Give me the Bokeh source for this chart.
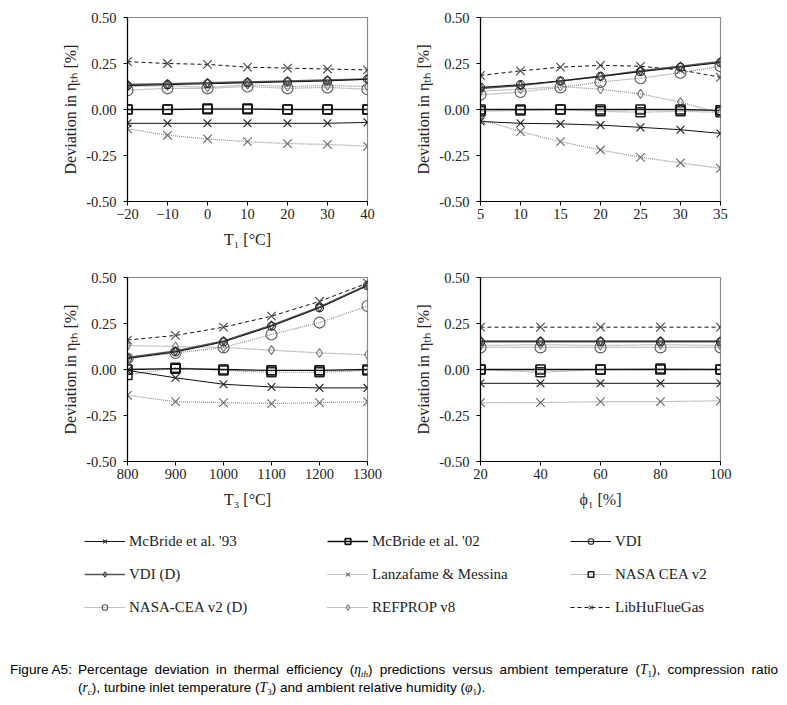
from bokeh.plotting import figure
from bokeh.layouts import column, row
from bokeh.models import (Range1d, FixedTicker, NumeralTickFormatter, Label,
                          Legend, LegendItem, ColumnDataSource, Div)
from bokeh.embed import file_html
from bokeh.resources import INLINE

# ---------------------------------------------------------------- data
SERIES = ["McBride et al. '93", "McBride et al. '02", "VDI",
          "VDI (D)", "Lanzafame & Messina", "NASA CEA v2",
          "NASA-CEA v2 (D)", "REFPROP v8", "LibHuFlueGas"]

# ambient temperature T1 [°C]
T1 = [-20, -10, 0, 10, 20, 30, 40]
t1_dev = {
    "McBride et al. '93": [-0.075, -0.075, -0.075, -0.075, -0.075, -0.075, -0.07],
    "McBride et al. '02": [0.0, 0.0, 0.002, 0.002, 0.0, 0.0, 0.0],
    "VDI": [0.13, 0.135, 0.14, 0.145, 0.15, 0.155, 0.165],
    "VDI (D)": [0.135, 0.14, 0.145, 0.15, 0.155, 0.16, 0.165],
    "Lanzafame & Messina": [-0.105, -0.14, -0.16, -0.175, -0.185, -0.19, -0.2],
    "NASA CEA v2": [0.0, 0.0, 0.006, 0.006, 0.0, 0.0, 0.0],
    "NASA-CEA v2 (D)": [0.105, 0.115, 0.115, 0.125, 0.115, 0.12, 0.11],
    "REFPROP v8": [0.125, 0.13, 0.12, 0.135, 0.125, 0.13, 0.125],
    "LibHuFlueGas": [0.26, 0.25, 0.245, 0.23, 0.225, 0.22, 0.215],
}

# compression ratio rc [-]
RC = [5, 10, 15, 20, 25, 30, 35]
rc_dev = {
    "McBride et al. '93": [-0.065, -0.075, -0.078, -0.085, -0.097, -0.11, -0.13],
    "McBride et al. '02": [0.0, 0.0, 0.0, 0.0, 0.0, 0.0, -0.005],
    "VDI": [0.12, 0.135, 0.155, 0.18, 0.205, 0.23, 0.255],
    "VDI (D)": [0.115, 0.13, 0.155, 0.18, 0.21, 0.235, 0.26],
    "Lanzafame & Messina": [-0.055, -0.12, -0.175, -0.22, -0.26, -0.29, -0.32],
    "NASA CEA v2": [-0.01, -0.005, 0.0, -0.01, -0.015, -0.01, -0.015],
    "NASA-CEA v2 (D)": [0.08, 0.095, 0.12, 0.15, 0.17, 0.2, 0.235],
    "REFPROP v8": [0.1, 0.11, 0.125, 0.11, 0.085, 0.04, -0.02],
    "LibHuFlueGas": [0.185, 0.21, 0.23, 0.24, 0.235, 0.215, 0.175],
}

# turbine inlet temperature T3 [°C]
T3 = [800, 900, 1000, 1100, 1200, 1300]
t3_dev = {
    "McBride et al. '93": [-0.005, -0.045, -0.08, -0.095, -0.1, -0.1],
    "McBride et al. '02": [0.0, 0.005, 0.0, -0.005, -0.005, 0.0],
    "VDI": [0.06, 0.095, 0.15, 0.235, 0.335, 0.455],
    "VDI (D)": [0.065, 0.1, 0.155, 0.24, 0.34, 0.46],
    "Lanzafame & Messina": [-0.14, -0.175, -0.18, -0.185, -0.18, -0.175],
    "NASA CEA v2": [-0.03, 0.01, -0.005, -0.015, -0.015, -0.005],
    "NASA-CEA v2 (D)": [0.06, 0.09, 0.12, 0.19, 0.255, 0.345],
    "REFPROP v8": [0.13, 0.125, 0.12, 0.105, 0.09, 0.08],
    "LibHuFlueGas": [0.16, 0.185, 0.23, 0.29, 0.37, 0.47],
}

# ambient relative humidity phi1 [%]
PHI = [20, 40, 60, 80, 100]
phi_dev = {
    "McBride et al. '93": [-0.075, -0.075, -0.075, -0.075, -0.075],
    "McBride et al. '02": [0.0, 0.0, 0.0, 0.0, 0.0],
    "VDI": [0.15, 0.15, 0.15, 0.15, 0.15],
    "VDI (D)": [0.155, 0.155, 0.155, 0.155, 0.155],
    "Lanzafame & Messina": [-0.18, -0.18, -0.175, -0.175, -0.17],
    "NASA CEA v2": [0.0, -0.015, 0.0, 0.005, 0.0],
    "NASA-CEA v2 (D)": [0.12, 0.12, 0.12, 0.12, 0.12],
    "REFPROP v8": [0.13, 0.135, 0.13, 0.135, 0.13],
    "LibHuFlueGas": [0.23, 0.23, 0.23, 0.23, 0.23],
}

Y_TICKS = [-0.5, -0.25, 0.0, 0.25, 0.5]

# ---------------------------------------------------------------- styles
DOT = "1 1"
GREY_DOT = "#8c8c8c"
STYLE = {
    "McBride et al. '93": dict(lc="#111111", lw=1.0, dash="solid", mk="x", mc="#222222", ms=11, mw=1.1, ls=8),
    "McBride et al. '02": dict(lc="#111111", lw=1.3, dash="solid", mk="square", mc="#111111", ms=9, mw=1.7, ls=7),
    "VDI": dict(lc="#111111", lw=1.0, dash="solid", mk="circle", mc="#222222", ms=8, mw=1.1, ls=7),
    "VDI (D)": dict(lc="#555555", lw=1.6, dash="solid", mk="diamond", mc="#444444", ms=9, mw=1.1, ls=7),
    "Lanzafame & Messina": dict(lc=GREY_DOT, lw=1.2, dash=DOT, mk="x", mc="#666666", ms=12, mw=1.1, ls=8),
    "NASA CEA v2": dict(lc=GREY_DOT, lw=1.2, dash=DOT, mk="square", mc="#222222", ms=9, mw=1.5, ls=7),
    "NASA-CEA v2 (D)": dict(lc=GREY_DOT, lw=1.2, dash=DOT, mk="circle", mc="#555555", ms=11, mw=1.1, ls=8),
    "REFPROP v8": dict(lc=GREY_DOT, lw=1.2, dash=DOT, mk="diamond", mc="#777777", ms=9, mw=1.1, ls=7),
    "LibHuFlueGas": dict(lc="#111111", lw=1.0, dash="4 3", mk="x", mc="#444444", ms=12, mw=1.1, ls=8),
}
DRAW_ORDER = ["Lanzafame & Messina", "NASA CEA v2", "NASA-CEA v2 (D)", "REFPROP v8",
              "LibHuFlueGas", "VDI (D)", "VDI", "McBride et al. '93", "McBride et al. '02"]

SERIF = "Liberation Serif"
YLABEL = "Deviation in \u03b7\u209c\u2095 [%]"


def make_panel(xs, dev, xr, xticks, left, right, top, bottom, xlabel):
    p = figure(frame_width=240, frame_height=184,
               min_border_left=left, min_border_right=right,
               min_border_top=top, min_border_bottom=bottom,
               x_range=Range1d(*xr), y_range=Range1d(-0.5, 0.5),
               output_backend="svg", toolbar_location=None, tools="")
    p.grid.visible = False
    p.outline_line_color = "#8a8a8a"
    p.outline_line_width = 1.2
    p.background_fill_color = "white"
    p.border_fill_color = "white"

    p.xaxis.ticker = FixedTicker(ticks=xticks)
    p.yaxis.ticker = FixedTicker(ticks=Y_TICKS)
    p.yaxis.formatter = NumeralTickFormatter(format="0.00")
    for ax in (p.xaxis[0], p.yaxis[0]):
        ax.axis_line_color = "#000000"
        ax.axis_line_width = 1.2
        ax.major_tick_line_color = "#000000"
        ax.major_tick_out = 4
        ax.major_tick_in = 0
        ax.minor_tick_line_color = None
        ax.major_label_text_font = SERIF
        ax.major_label_text_font_size = "14.5px"
        ax.major_label_text_color = "#222222"
        ax.axis_label_text_font = SERIF
        ax.axis_label_text_font_size = "16px"
        ax.axis_label_text_font_style = "normal"
        ax.axis_label_text_color = "#222222"
    p.xaxis.major_label_standoff = 3
    p.xaxis.axis_label_standoff = 9
    p.yaxis.major_label_standoff = 7
    p.yaxis.axis_label_standoff = 4
    p.yaxis.axis_label = YLABEL
    if xlabel is not None:
        p.xaxis.axis_label = xlabel

    for name in DRAW_ORDER:
        st = STYLE[name]
        ys = dev[name]
        p.line(xs, ys, line_color=st["lc"], line_width=st["lw"], line_dash=st["dash"])
    for name in DRAW_ORDER:
        st = STYLE[name]
        ys = dev[name]
        p.scatter(xs, ys, marker=st["mk"], size=st["ms"], line_color=st["mc"],
                  line_width=st["mw"], fill_color=None)
    return p


p1 = make_panel(T1, t1_dev, (-20, 40), T1, 127, 33, 17, 58, "T\u2081 [\u00b0C]")
p2 = make_panel(RC, rc_dev, (5, 35), RC, 80, 67, 17, 58, None)
p3 = make_panel(T3, t3_dev, (800, 1300), T3, 127, 33, 18, 52, "T\u2083 [\u00b0C]")
p4 = make_panel(PHI, phi_dev, (20, 100), PHI, 80, 67, 18, 52, "\u03d5\u2081 [%]")

# x label "r_c [-]" with a real subscript, built from three labels
for txt, size, dx, dy in [("r", "16px", -15, -41), ("c", "11px", -9.6, -45), (" [-]", "16px", -4.5, -41)]:
    p2.add_layout(Label(x=20, y=-0.5, x_offset=dx, y_offset=dy, text=txt,
                        text_font=SERIF, text_font_size=size, text_color="#222222",
                        text_align="left", text_baseline="middle"))

# ---------------------------------------------------------------- legend
leg = figure(width=787, height=112, min_border_left=84, min_border_top=14,
             min_border_right=0, min_border_bottom=0,
             x_range=Range1d(0, 1), y_range=Range1d(0, 1),
             x_axis_location=None, y_axis_location=None,
             output_backend="svg", toolbar_location=None, tools="")
leg.grid.visible = False
leg.outline_line_color = None
items = []
for name in SERIES:
    st = STYLE[name]
    # proxy renderers: points placed outside the visible range
    src = ColumnDataSource(dict(x=[-10.0, -9.0], y=[-10.0, -10.0]))
    lr = leg.line("x", "y", source=src, line_color=st["lc"], line_width=st["lw"], line_dash=st["dash"])
    sr = leg.scatter("x", "y", source=src, marker=st["mk"], size=st["ls"],
                     line_color=st["mc"], line_width=st["mw"], fill_color=None)
    items.append(LegendItem(label=name, renderers=[lr, sr]))
legend = Legend(items=items, location="top_left", orientation="horizontal", ncols=3,
                glyph_width=41, glyph_height=14, label_height=28, label_width=193,
                label_standoff=4, spacing=5, padding=0, margin=0,
                border_line_color=None, background_fill_alpha=0,
                label_text_font=SERIF, label_text_font_size="15px",
                label_text_color="#222222")
leg.add_layout(legend)

# ---------------------------------------------------------------- caption
M = "font-family:'Liberation Serif',serif;font-style:italic;"
SUB = "font-size:9px;vertical-align:-3px;line-height:0;"
caption_html = f"""
<div style="position:relative;width:787px;height:80px;font-family:'Liberation Sans',Arial,sans-serif;
font-size:13.6px;line-height:18px;color:#000;">
<div style="position:absolute;left:5px;top:31px;white-space:nowrap;">Figure A5:</div>
<div style="position:absolute;left:73px;top:31px;width:700px;white-space:nowrap;text-align:justify;text-align-last:justify;">Percentage deviation in thermal efficiency (<span style="{M}">&eta;<span style="{SUB}">th</span></span>) predictions versus ambient temperature (<span style="{M}">T<span style="{SUB}font-style:normal;">1</span></span>), compression ratio</div>
<div style="position:absolute;left:73px;top:49px;white-space:nowrap;">(<span style="{M}">r<span style="{SUB}">c</span></span>), turbine inlet temperature (<span style="{M}">T<span style="{SUB}font-style:normal;">3</span></span>) and ambient relative humidity (<span style="{M}">&phi;<span style="{SUB}font-style:normal;">1</span></span>).</div>
</div>
"""
caption = Div(text=caption_html, width=787, height=80)

layout = column(row(p1, p2), row(p3, p4), leg, caption)
open("out.html", "w").write(file_html(layout, INLINE))
